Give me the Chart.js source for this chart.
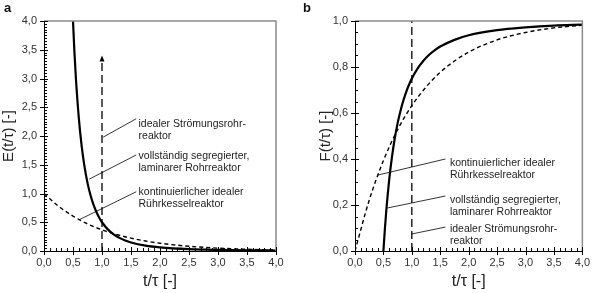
<!DOCTYPE html>
<html>
<head>
<meta charset="utf-8">
<script src="https://cdn.jsdelivr.net/npm/chart.js@4/dist/chart.umd.min.js"></script>
<style>
  body { margin: 0; background: #fff; }
  #wrap { position: relative; width: 595px; height: 293px; font-family: "Liberation Sans", Arial, sans-serif; }
  .panel { position: absolute; top: 0; height: 293px; }
  .tag { position: absolute; top: 0; font-weight: bold; font-size: 13px; color: #111; }
</style>
</head>
<body>
<div id="wrap">
  <div class="panel" style="left:0;width:297px"><canvas id="chartE" width="297" height="293"></canvas></div>
  <div class="panel" style="left:297px;width:298px"><canvas id="chartF" width="298" height="293"></canvas></div>
  <div class="tag" style="left:4px">a</div>
  <div class="tag" style="left:303px">b</div>
</div>
<script>
// dimensionless time t/tau
var thetaLam = [0.5, 0.525, 0.55, 0.6, 0.65, 0.7, 0.75, 0.8, 0.85, 0.9, 0.95, 1.0, 1.1, 1.2, 1.3, 1.4, 1.5, 1.75, 2.0, 2.5, 3.0, 3.5, 4.0];
var eLaminar = [4.0, 3.455, 3.005, 2.315, 1.821, 1.458, 1.185, 0.977, 0.814, 0.686, 0.583, 0.5, 0.376, 0.289, 0.228, 0.182, 0.148, 0.093, 0.063, 0.032, 0.019, 0.012, 0.008];
var fLaminar = [0, 0.093, 0.174, 0.306, 0.408, 0.490, 0.556, 0.609, 0.654, 0.691, 0.723, 0.75, 0.793, 0.826, 0.852, 0.872, 0.889, 0.918, 0.938, 0.960, 0.972, 0.980, 0.984];

var thetaCstr = [0, 0.25, 0.5, 0.75, 1.0, 1.25, 1.5, 1.75, 2.0, 2.5, 3.0, 3.5, 4.0];
var eCstr = [1.0, 0.779, 0.607, 0.472, 0.368, 0.287, 0.223, 0.174, 0.135, 0.082, 0.050, 0.030, 0.018];
var fCstr = [0, 0.221, 0.393, 0.528, 0.632, 0.713, 0.777, 0.826, 0.865, 0.918, 0.950, 0.970, 0.982];

var thetaPlug = [1.0, 1.0];
var ePlug = [0, 3.3];
var fPlug = [0, 1.0];

var labelPlug = ['idealer Strömungsrohr-', 'reaktor'];
var labelLam = ['vollständig segregierter,', 'laminarer Rohrreaktor'];
var labelCstr = ['kontinuierlicher idealer', 'Rührkesselreaktor'];

function pts(xs, ys) {
  var out = [];
  for (var i = 0; i < xs.length; i++) out.push({x: xs[i], y: ys[i]});
  return out;
}
function comma(v) { return (Math.round(v * 10) / 10).toFixed(1).replace('.', ','); }

var FONT = '"Liberation Sans", Arial, sans-serif';

// frame, inner ticks, leader lines and labels
var decor = {
  id: 'decor',
  afterDraw: function(chart, args, o) {
    var ctx = chart.ctx, a = chart.chartArea, xs = chart.scales.x, ys = chart.scales.y;
    ctx.save();
    ctx.strokeStyle = '#8c8c8c';
    ctx.lineWidth = 1.5;
    ctx.beginPath();
    ctx.moveTo(a.left, a.top); ctx.lineTo(a.right, a.top); ctx.lineTo(a.right, a.bottom);
    ctx.stroke();
    ctx.strokeStyle = '#000';
    ctx.lineWidth = 1;
    ctx.beginPath();
    ctx.moveTo(a.left + 0.5, a.top); ctx.lineTo(a.left + 0.5, a.bottom + 0.5); ctx.lineTo(a.right, a.bottom + 0.5);
    ctx.stroke();

    ctx.beginPath();
    var i, v, p, n;
    n = Math.round(xs.max / o.xMinor);
    for (i = 0; i <= n; i++) {
      v = i * o.xMinor;
      p = Math.round(xs.getPixelForValue(v)) + 0.5;
      if (i % o.xEvery === 0) { ctx.moveTo(p, a.bottom + 4); ctx.lineTo(p, a.bottom - 4); }
      else { ctx.moveTo(p, a.bottom); ctx.lineTo(p, a.bottom - 3); }
    }
    n = Math.round(ys.max / o.yMinor);
    for (i = 0; i <= n; i++) {
      v = i * o.yMinor;
      p = Math.round(ys.getPixelForValue(v)) + 0.5;
      if (i % o.yEvery === 0) { ctx.moveTo(a.left - 4, p); ctx.lineTo(a.left + 4, p); }
      else { ctx.moveTo(a.left, p); ctx.lineTo(a.left + 3, p); }
    }
    ctx.stroke();

    // arrow head on the plug flow line
    if (o.arrow) {
      var ax = xs.getPixelForValue(o.arrow[0]), ay = ys.getPixelForValue(o.arrow[1]);
      ctx.fillStyle = '#000';
      ctx.beginPath();
      ctx.moveTo(ax, ay - 4); ctx.lineTo(ax - 2.5, ay + 2); ctx.lineTo(ax + 2.5, ay + 2);
      ctx.closePath();
      ctx.fill();
    }

    ctx.lineWidth = 0.8;
    ctx.font = '10.5px ' + FONT;
    ctx.fillStyle = '#222';
    ctx.textBaseline = 'middle';
    o.notes.forEach(function(nt) {
      ctx.beginPath();
      ctx.moveTo(xs.getPixelForValue(nt.from[0]), ys.getPixelForValue(nt.from[1]));
      ctx.lineTo(xs.getPixelForValue(nt.to[0]), ys.getPixelForValue(nt.to[1]));
      ctx.stroke();
      var tx = xs.getPixelForValue(nt.at[0]), ty = ys.getPixelForValue(nt.at[1]);
      nt.text.forEach(function(line, k) { ctx.fillText(line, tx, ty + k * 12); });
    });
    ctx.restore();
  }
};

function makeChart(id, cfg) {
  return new Chart(document.getElementById(id), {
    type: 'scatter',
    data: {
      datasets: [
        { data: pts(cfg.lamX, cfg.lamY), showLine: true, borderColor: '#000', borderWidth: 2.2, pointRadius: 0, cubicInterpolationMode: 'monotone' },
        { data: pts(thetaCstr, cfg.cstr), showLine: true, borderColor: '#000', borderWidth: 1.4, borderDash: [4, 3], pointRadius: 0, cubicInterpolationMode: 'monotone' },
        { data: pts(thetaPlug, cfg.plug), showLine: true, borderColor: '#000', borderWidth: 1.3, borderDash: [8, 4], pointRadius: 0 }
      ]
    },
    options: {
      responsive: false,
      animation: false,
      layout: { padding: { left: 0, right: cfg.padRight, top: 21, bottom: 0 } },
      plugins: { legend: { display: false }, tooltip: { enabled: false }, decor: cfg.decor },
      scales: {
        x: {
          type: 'linear', min: 0, max: 4,
          grid: { display: false, drawTicks: false }, border: { display: false },
          ticks: { stepSize: 0.5, padding: 5, color: '#333', font: { family: FONT, size: 11 }, callback: comma },
          title: { display: true, text: 't/τ [-]', color: '#222', font: { family: FONT, size: 16 }, padding: { top: 0, bottom: 2 } },
          afterFit: function(s) { s.height = 42; }
        },
        y: {
          type: 'linear', min: 0, max: cfg.yMax,
          grid: { display: false, drawTicks: false }, border: { display: false },
          ticks: { stepSize: cfg.yStep, padding: 7, color: '#333', font: { family: FONT, size: 11 }, callback: comma },
          title: { display: true, text: cfg.yTitle, color: '#222', font: { family: FONT, size: 15 }, padding: { top: cfg.titlePad, bottom: 0 } },
          afterFit: function(s) { s.width = cfg.yWidth; }
        }
      }
    },
    plugins: [decor]
  });
}

makeChart('chartE', {
  lamX: thetaLam, lamY: eLaminar, cstr: eCstr, plug: ePlug,
  yMax: 4, yStep: 0.5, yTitle: 'E(t/τ) [-]', yWidth: 44, padRight: 21, titlePad: 0,
  decor: {
    xMinor: 0.1, xEvery: 5, yMinor: 0.05, yEvery: 10, arrow: [1.0, 3.33],
    notes: [
      { text: labelPlug, from: [1.02, 1.98], to: [1.59, 2.30], at: [1.63, 2.21] },
      { text: labelLam, from: [0.78, 1.25], to: [1.59, 1.67], at: [1.63, 1.65] },
      { text: labelCstr, from: [0.60, 0.54], to: [1.59, 1.03], at: [1.63, 1.03] }
    ]
  }
});

makeChart('chartF', {
  lamX: thetaLam, lamY: fLaminar, cstr: fCstr, plug: fPlug,
  yMax: 1, yStep: 0.2, yTitle: 'F(t/τ) [-]', yWidth: 58, padRight: 8, titlePad: 20,
  decor: {
    xMinor: 0.1, xEvery: 5, yMinor: 0.05, yEvery: 4, arrow: null,
    notes: [
      { text: labelCstr, from: [0.40, 0.33], to: [1.59, 0.40], at: [1.67, 0.383] },
      { text: labelLam, from: [0.57, 0.187], to: [1.59, 0.239], at: [1.67, 0.222] },
      { text: labelPlug, from: [1.0, 0.074], to: [1.59, 0.104], at: [1.67, 0.096] }
    ]
  }
});
</script>
</body>
</html>
